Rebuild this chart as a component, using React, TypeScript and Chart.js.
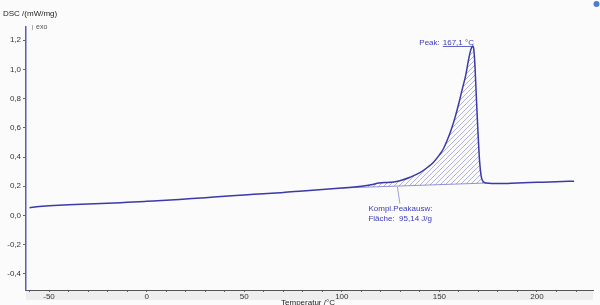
import React, { useEffect, useRef } from "react";
import { Chart, registerables } from "chart.js";

Chart.register(...registerables);

const temperatures = [-60, -55, -50, -40, -30, -20, -10, 0, 10, 20, 30, 40, 50, 60, 70, 80, 90, 100, 105, 110, 115, 119, 122, 125, 128, 131, 135, 140, 144, 147, 150, 152, 154, 156, 158, 160, 162, 163.5, 165, 166, 167.1, 167.6, 168.2, 168.9, 169.7, 170.6, 171.4, 172.3, 174, 177, 181, 190, 200, 210, 219];
const dscValues = [0.053, 0.062, 0.066, 0.073, 0.078, 0.083, 0.09, 0.097, 0.104, 0.113, 0.122, 0.132, 0.14, 0.149, 0.157, 0.168, 0.178, 0.188, 0.193, 0.2, 0.21, 0.222, 0.226, 0.227, 0.232, 0.243, 0.262, 0.293, 0.33, 0.365, 0.415, 0.455, 0.515, 0.585, 0.67, 0.77, 0.88, 0.96, 1.07, 1.13, 1.16, 1.14, 1.03, 0.82, 0.59, 0.37, 0.27, 0.235, 0.222, 0.219, 0.219, 0.223, 0.227, 0.231, 0.235];
const baselineTemps = [100, 174];
const baselineValues = [0.188, 0.222];
const xTickValues = [-60, -50, -40, -30, -20, -10, 0, 10, 20, 30, 40, 50, 60, 70, 80, 90, 100, 110, 120, 130, 140, 150, 160, 170, 180, 190, 200, 210, 220];
const xLabelValues = [-50, 0, 50, 100, 150, 200];
const yTickValues = [-0.4, -0.2, 0, 0.2, 0.4, 0.6, 0.8, 1.0, 1.2];
const peakTemp = 167.1;
const peakValue = 1.16;
const peakLabel = "Peak:";
const peakValueLabel = "167,1 °C";
const areaLabel1 = "Kompl.Peakausw:";
const areaLabel2 = "Fläche:  95,14 J/g";
const yTitle = "DSC /(mW/mg)";
const xTitle = "Temperatur /°C";
const exoLabel = "exo";

const BLUE = "#3a3aa8";
const TEXTBLUE = "#3c3cb4";

export default function App() {
  const ref = useRef<HTMLCanvasElement | null>(null);
  useEffect(() => {
    const canvas = ref.current;
    if (!canvas) return;
    const pc = document.createElement("canvas");
    pc.width = 5;
    pc.height = 5;
    const pctx = pc.getContext("2d")!;
    pctx.strokeStyle = "rgba(110,110,200,0.75)";
    pctx.lineWidth = 0.7;
    pctx.beginPath();
    pctx.moveTo(-1, 6); pctx.lineTo(6, -1);
    pctx.moveTo(-1, 1); pctx.lineTo(1, -1);
    pctx.moveTo(4, 6); pctx.lineTo(6, 4);
    pctx.stroke();
    const pattern = canvas.getContext("2d")!.createPattern(pc, "repeat");

    const curve = temperatures.map((t, i) => ({ x: t, y: dscValues[i] }));
    const base = baselineTemps.map((t, i) => ({ x: t, y: baselineValues[i] }));
    const sub = curve.filter((p) => p.x >= baselineTemps[0] && p.x <= baselineTemps[1]);

    const font = "'Liberation Sans', Arial, sans-serif";

    const annot = {
      id: "annot",
      beforeDraw(chart: any) {
        const ctx = chart.ctx;
        ctx.save();
        ctx.fillStyle = "#fbfbfc";
        ctx.fillRect(0, 0, chart.width, chart.height);
        const a = chart.chartArea;
        ctx.fillStyle = "#eeeeef";
        ctx.fillRect(a.left, a.bottom, a.right - a.left, 10);
        ctx.restore();
      },
      afterDatasetsDraw(chart: any) {
        const ctx = chart.ctx;
        const xs = chart.scales.x;
        const ys = chart.scales.y;
        ctx.save();
        ctx.font = `8px ${font}`;
        ctx.textBaseline = "middle";
        const px = xs.getPixelForValue(peakTemp);
        const py = ys.getPixelForValue(peakValue);
        ctx.fillStyle = TEXTBLUE;
        const startV = px - 30;
        ctx.textAlign = "left";
        ctx.fillText(peakValueLabel, startV, py - 3.5);
        ctx.textAlign = "right";
        ctx.fillText(peakLabel, startV - 3, py - 3.5);
        ctx.strokeStyle = TEXTBLUE;
        ctx.lineWidth = 0.8;
        ctx.beginPath();
        ctx.moveTo(startV, py + 0.5);
        ctx.lineTo(px, py + 0.5);
        ctx.stroke();
        const lx = xs.getPixelForValue(128.5);
        const ly = ys.getPixelForValue(0.197);
        ctx.strokeStyle = "#8888cc";
        ctx.beginPath();
        ctx.moveTo(lx, ly);
        ctx.lineTo(lx + 2.5, ly + 17);
        ctx.stroke();
        ctx.textAlign = "left";
        ctx.fillStyle = TEXTBLUE;
        ctx.fillText(areaLabel1, lx - 29, ly + 22);
        ctx.fillText(areaLabel2, lx - 29, ly + 32);
        ctx.fillStyle = "#222";
        ctx.fillText(yTitle, 3, 14);
        ctx.fillStyle = "#555";
        ctx.font = `7px ${font}`;
        ctx.fillText(exoLabel, 36, 27);
        ctx.strokeStyle = "#999";
        ctx.beginPath();
        ctx.moveTo(32.5, 25);
        ctx.lineTo(32.5, 30);
        ctx.stroke();
        ctx.fillStyle = "#222";
        ctx.font = `8px ${font}`;
        ctx.textAlign = "center";
        ctx.fillText(xTitle, 308, 303);
        ctx.fillStyle = "#4a7fd0";
        ctx.beginPath();
        ctx.arc(596.5, 4, 3, 0, Math.PI * 2);
        ctx.fill();
        ctx.restore();
      },
    };

    const chart = new Chart(canvas, {
      type: "line",
      data: {
        datasets: [
          {
            data: curve,
            borderColor: BLUE,
            borderWidth: 1.5,
            pointRadius: 0,
            cubicInterpolationMode: "monotone",
            fill: false,
          },
          {
            data: base,
            borderColor: "rgba(90,90,190,0.8)",
            borderWidth: 0.8,
            pointRadius: 0,
            fill: false,
          },
          {
            data: sub,
            borderWidth: 0,
            borderColor: "rgba(0,0,0,0)",
            pointRadius: 0,
            cubicInterpolationMode: "monotone",
            backgroundColor: pattern as any,
            fill: 1,
          },
        ],
      },
      options: {
        animation: false,
        responsive: false,
        maintainAspectRatio: false,
        layout: { padding: { left: 0, right: 7, top: 27, bottom: 0 } },
        plugins: { legend: { display: false }, tooltip: { enabled: false } },
        scales: {
          x: {
            type: "linear",
            min: -61.8,
            max: 228.7,
            afterFit: (s: any) => { s.height = 15; },
            afterBuildTicks: (s: any) => { s.ticks = xTickValues.map((v) => ({ value: v })); },
            border: { color: "#555", width: 1 },
            grid: { drawOnChartArea: false, drawTicks: true, tickLength: 2, color: "#666" },
            ticks: {
              autoSkip: false,
              maxRotation: 0,
              padding: 0,
              color: "#333",
              font: { size: 8, family: font },
              callback: (v: any) => (xLabelValues.includes(Math.round(v)) ? String(Math.round(v)) : ""),
            },
          },
          y: {
            type: "linear",
            min: -0.51,
            max: 1.29,
            afterFit: (s: any) => { s.width = 26; },
            afterBuildTicks: (s: any) => { s.ticks = yTickValues.map((v) => ({ value: v })); },
            border: { color: "#5a5ab8", width: 1.5 },
            grid: { drawOnChartArea: false, drawTicks: true, tickLength: 3, color: "#666" },
            ticks: {
              autoSkip: false,
              padding: 2,
              color: "#333",
              font: { size: 8, family: font },
              callback: (v: any) => Number(v).toFixed(1).replace(".", ","),
            },
          },
        },
      },
      plugins: [annot],
    });
    return () => chart.destroy();
  }, []);

  return (
    <div style={{ position: "fixed", left: 0, top: 0, width: 600, height: 305, background: "#fbfbfc" }}>
      <canvas ref={ref} width={600} height={305} style={{ display: "block", width: 600, height: 305 }} />
    </div>
  );
}
